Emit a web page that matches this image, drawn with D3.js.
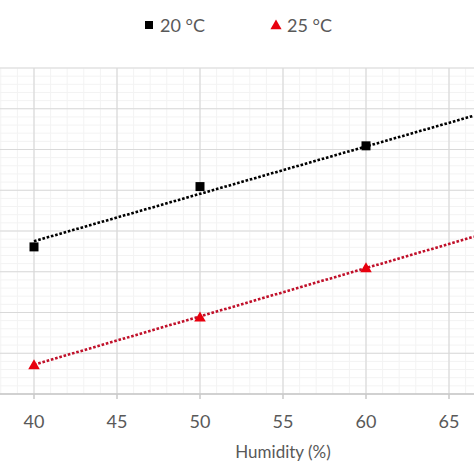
<!DOCTYPE html>
<html lang="en">
<head>
  <meta charset="UTF-8" />
  <title>Humidity chart</title>
  <script src="https://d3js.org/d3.v7.min.js"></script>
  <style>
    body { margin: 0; background: #fff; }
    svg { display: block; font-family: Lato, "Open Sans", sans-serif; }
    .tick-label { font-size: 18px; fill: #595959; }
    .axis-title { font-size: 17px; fill: #595959; }
    .legend text { font-size: 18px; fill: #595959; }
  </style>
</head>
<body>
  <div id="chart"></div>
  <script>
    const width = 474, height = 474;

    // data (y axis labels are cropped, so y is in grid units)
    const humidity = [40, 50, 60];
    const series20 = [3.61, 5.09, 6.09];
    const series25 = [0.69, 1.86, 3.07];
    const trendX = [40, 66.5];
    const trend20 = [3.75, 6.83];
    const trend25 = [0.72, 3.86];
    const xTicks = [40, 45, 50, 55, 60, 65];
    const legendLabels = ["20 °C", "25 °C"];

    const svg = d3.select("#chart").append("svg")
      .attr("width", width)
      .attr("height", height);

    const x = d3.scaleLinear().domain([40, 65]).range([34, 449]);
    const y = d3.scaleLinear().domain([0, 8]).range([394, 68]);

    svg.append("clipPath").attr("id", "plot")
      .append("rect").attr("x", 0).attr("y", 60).attr("width", width).attr("height", 340);

    const grid = svg.append("g").attr("clip-path", "url(#plot)");

    // minor grid
    const minorX = d3.range(37, 68, 1);
    const minorY = d3.range(0, 8.01, 0.2);
    grid.selectAll("line.mx").data(minorX).enter().append("line")
      .attr("x1", d => x(d)).attr("x2", d => x(d))
      .attr("y1", y(8)).attr("y2", y(0))
      .attr("stroke", "#f3f3f3").attr("stroke-width", 1);
    grid.selectAll("line.my").data(minorY).enter().append("line")
      .attr("x1", 0).attr("x2", width)
      .attr("y1", d => y(d)).attr("y2", d => y(d))
      .attr("stroke", "#f3f3f3").attr("stroke-width", 1);

    // major grid
    const majorX = d3.range(35, 70, 5);
    const majorY = d3.range(0, 9, 1);
    grid.selectAll("line.Mx").data(majorX).enter().append("line")
      .attr("x1", d => x(d)).attr("x2", d => x(d))
      .attr("y1", y(8)).attr("y2", y(0))
      .attr("stroke", "#d9d9d9").attr("stroke-width", 1.2);
    grid.selectAll("line.My").data(majorY).enter().append("line")
      .attr("x1", 0).attr("x2", width)
      .attr("y1", d => y(d)).attr("y2", d => y(d))
      .attr("stroke", "#d9d9d9").attr("stroke-width", 1.2);

    // x axis
    const xAxis = svg.append("g").attr("transform", `translate(0,${y(0)})`);
    xAxis.append("line").attr("x1", 0).attr("x2", width)
      .attr("stroke", "#c8c8c8").attr("stroke-width", 1.5);
    xAxis.selectAll("line.tk").data(xTicks).enter().append("line")
      .attr("x1", d => x(d)).attr("x2", d => x(d))
      .attr("y1", 0).attr("y2", 5)
      .attr("stroke", "#c8c8c8").attr("stroke-width", 1.5);
    xAxis.selectAll("text").data(xTicks).enter().append("text")
      .attr("class", "tick-label")
      .attr("x", d => x(d)).attr("y", 34)
      .attr("text-anchor", "middle")
      .text(d => d);

    svg.append("text").attr("class", "axis-title")
      .attr("x", 283).attr("y", 458)
      .attr("text-anchor", "middle")
      .text("Humidity (%)");

    // trend lines
    const line = d3.line().x(d => x(d[0])).y(d => y(d[1]));
    const plot = svg.append("g").attr("clip-path", "url(#plot)");
    plot.append("path").datum(d3.zip(trendX, trend20))
      .attr("d", line).attr("fill", "none")
      .attr("stroke", "#000").attr("stroke-width", 2.6)
      .attr("stroke-dasharray", "2.6 1.8");
    plot.append("path").datum(d3.zip(trendX, trend25))
      .attr("d", line).attr("fill", "none")
      .attr("stroke", "#c0102a").attr("stroke-width", 2.6)
      .attr("stroke-dasharray", "2.6 1.8");

    // markers
    const square = d3.symbol().type(d3.symbolSquare).size(81);
    const triangle = d3.symbol().type(d3.symbolTriangle).size(58);
    plot.selectAll("path.s20").data(d3.zip(humidity, series20)).enter().append("path")
      .attr("d", square)
      .attr("transform", d => `translate(${x(d[0])},${y(d[1])})`)
      .attr("fill", "#000");
    plot.selectAll("path.s25").data(d3.zip(humidity, series25)).enter().append("path")
      .attr("d", triangle)
      .attr("transform", d => `translate(${x(d[0])},${y(d[1])})`)
      .attr("fill", "#e8000e");

    // legend
    const legend = svg.append("g").attr("class", "legend");
    const lx = [149, 276];
    legend.append("path").attr("d", d3.symbol().type(d3.symbolSquare).size(64))
      .attr("transform", `translate(${lx[0]},25)`).attr("fill", "#000");
    legend.append("path").attr("d", d3.symbol().type(d3.symbolTriangle).size(54))
      .attr("transform", `translate(${lx[1]},26)`).attr("fill", "#e8000e");
    legend.selectAll("text").data(legendLabels).enter().append("text")
      .attr("x", (d, i) => lx[i] + 11).attr("y", 32)
      .text(d => d);
  </script>
</body>
</html>
